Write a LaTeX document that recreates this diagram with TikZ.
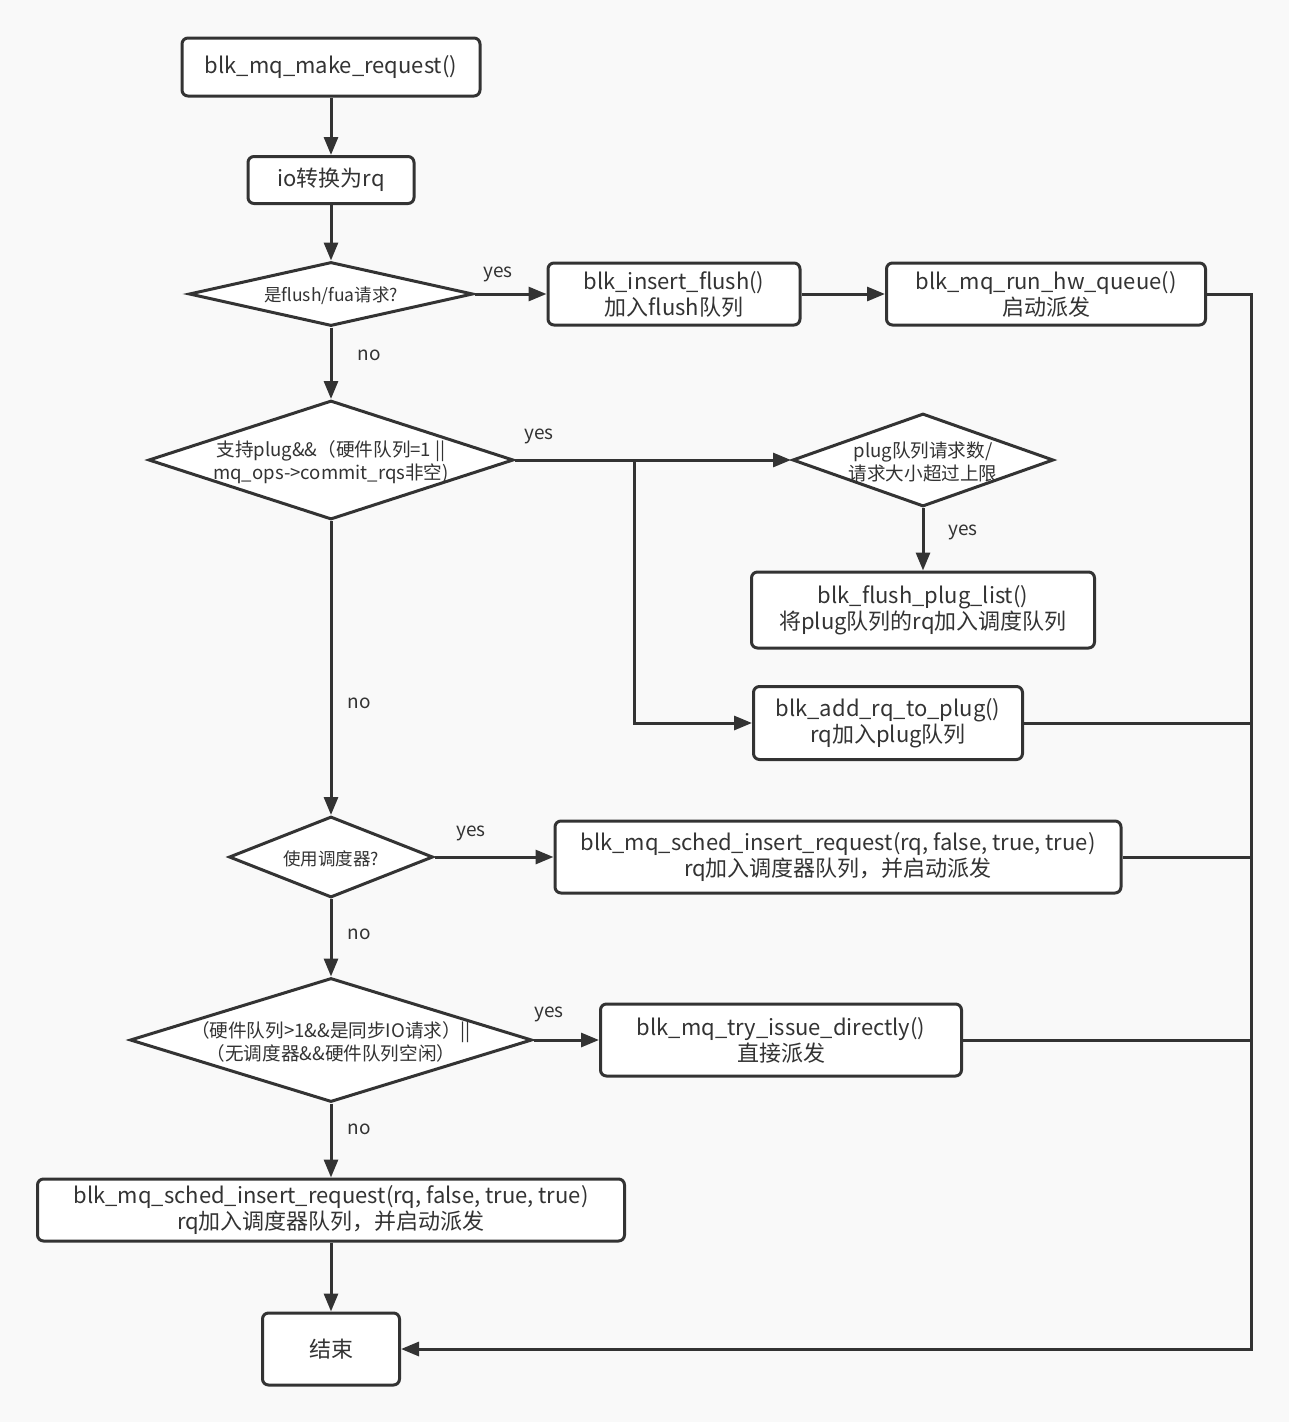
\documentclass[tikz,border=0pt]{standalone}
\usepackage{fontspec}
\setmainfont{Noto Sans CJK SC}
\usetikzlibrary{shapes.geometric,arrows.meta}
\definecolor{ln}{RGB}{51,51,51}
\definecolor{bg}{RGB}{249,249,249}
\begin{document}
\begin{tikzpicture}[x=1pt,y=-1pt,
 proc/.style={draw=ln, line width=3pt, fill=white, rounded corners=6pt, inner sep=0pt, align=center, text=ln, font=\fontsize{22pt}{26pt}\selectfont},
 decision/.style={draw=ln, line width=3pt, fill=white, shape=diamond, inner sep=0pt},
 dtext/.style={text=ln, align=center, font=\fontsize{18.6pt}{23pt}\selectfont, inner sep=0pt, yshift=-2pt},
 lbl/.style={text=ln, font=\fontsize{19pt}{22pt}\selectfont, inner sep=0pt},
 conn/.style={draw=ln, line width=3pt},
 arr/.style={conn, -{Triangle[length=18pt,width=14pt]}},
]
\fill[bg] (0,0) rectangle (1289,1422);
\useasboundingbox (0,0) rectangle (1289,1422);

\node[proc, minimum width=298pt, minimum height=58pt] (start) at (331,67) {blk\_mq\_make\_request()};
\node[proc, minimum width=166pt, minimum height=47pt] (io) at (331,180) {io转换为rq};
\node[decision, minimum width=284pt, minimum height=64pt, label={[dtext, font=\fontsize{17.5pt}{21pt}\selectfont]center:是flush/fua请求?}] (d1) at (331,294) {};
\node[proc, minimum width=252pt, minimum height=62pt] (flush) at (674,294) {blk\_insert\_flush()\\加入flush队列};
\node[proc, minimum width=319pt, minimum height=62pt] (runhw) at (1046,294) {blk\_mq\_run\_hw\_queue()\\启动派发};
\node[decision, minimum width=365pt, minimum height=119pt, label={[dtext]center:{支持plug\&\&（硬件队列=1 ||\\mq\_ops->commit\_rqs非空)}}] (d2) at (331,460) {};
\node[decision, minimum width=261pt, minimum height=93pt, label={[dtext]center:{plug队列请求数/\\请求大小超过上限}}] (d3) at (923,460) {};
\node[proc, minimum width=343pt, minimum height=76pt] (flushplug) at (923,610) {blk\_flush\_plug\_list()\\将plug队列的rq加入调度队列};
\node[proc, minimum width=269pt, minimum height=73pt] (addrq) at (888,723) {blk\_add\_rq\_to\_plug()\\rq加入plug队列};
\node[decision, minimum width=204pt, minimum height=81pt, label={[dtext, font=\fontsize{17.5pt}{21pt}\selectfont]center:使用调度器?}] (d4) at (331,857) {};
\node[proc, minimum width=566pt, minimum height=72pt] (sched1) at (838,857) {blk\_mq\_sched\_insert\_request(rq, false, true, true)\\rq加入调度器队列，并启动派发};
\node[decision, minimum width=402pt, minimum height=124pt, label={[dtext]center:{（硬件队列>1\&\&是同步IO请求）||\\（无调度器\&\&硬件队列空闲）}}] (d5) at (331,1040) {};
\node[proc, minimum width=361pt, minimum height=72pt] (direct) at (781,1040) {blk\_mq\_try\_issue\_directly()\\直接派发};
\node[proc, minimum width=587pt, minimum height=62pt] (sched2) at (331,1210) {blk\_mq\_sched\_insert\_request(rq, false, true, true)\\rq加入调度器队列，并启动派发};
\node[proc, minimum width=137pt, minimum height=72pt] (end) at (331,1349) {结束};

\coordinate (br) at (634,460);
\coordinate (busb) at (1251,1349);

\draw[arr] (start) -- (io);
\draw[arr] (io) -- (d1);
\draw[arr] (d1) -- (flush);
\draw[arr] (flush) -- (runhw);
\draw[arr] (d1) -- (d2);
\draw[arr] (d2.east) -- (d3.west);
\draw[arr] (br) |- (addrq.west);
\draw[arr] (d3) -- (flushplug);
\draw[arr] (d2) -- (d4);
\draw[arr] (d4) -- (sched1);
\draw[arr] (d4) -- (d5);
\draw[arr] (d5) -- (direct);
\draw[arr] (d5) -- (sched2);
\draw[arr] (sched2) -- (end);
\draw[arr] (runhw.east) -| (busb) -- (end.east);
\draw[conn] (addrq.east) -- (addrq.east -| busb);
\draw[conn] (sched1.east) -- (sched1.east -| busb);
\draw[conn] (direct.east) -- (direct.east -| busb);

\node[lbl] (l1) at (498,274) {yes};
\node[lbl] (l2) at (369,355) {no};
\node[lbl] (l3) at (539,436) {yes};
\node[lbl] (l4) at (963,532) {yes};
\node[lbl] (l5) at (359,703) {no};
\node[lbl] (l6) at (471,833) {yes};
\node[lbl] (l7) at (359,934) {no};
\node[lbl] (l8) at (549,1014) {yes};
\node[lbl] (l9) at (359,1129) {no};
\end{tikzpicture}
\end{document}
